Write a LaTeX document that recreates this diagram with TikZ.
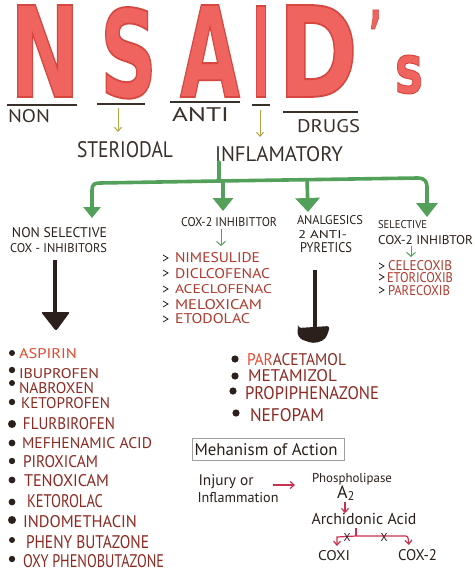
\documentclass[tikz,border=0pt]{standalone}
\usepackage{fontspec}
\usepackage{graphicx}
\setmainfont{PT Sans}
\newfontfamily\titlefont{DejaVu Sans}
\usetikzlibrary{arrows.meta}
\definecolor{titlered}{HTML}{F06460}
\definecolor{hink}{HTML}{3A302A}
\definecolor{grn}{HTML}{52A05A}
\definecolor{dink}{HTML}{2B201B}
\definecolor{listred}{HTML}{8C2A22}
\definecolor{brightred}{HTML}{E24A2E}
\definecolor{coxred}{HTML}{B03A2E}
\definecolor{mechred}{HTML}{C8324E}
\definecolor{olive}{HTML}{B5A348}
\definecolor{boxgray}{HTML}{A0A0A0}
\newcommand{\fitbox}[3]{\resizebox{#1pt}{#2pt}{#3}}
\newcommand{\fitw}[2]{\resizebox{#1pt}{!}{#2}}
\newcommand{\outl}[1]{\special{pdf:literal direct 2 Tr 0.3 w 0.84 0.28 0.25 RG}#1\special{pdf:literal direct 0 Tr}}
\begin{document}
\begin{tikzpicture}[x=1pt,y=-1pt,
  txt/.style={inner sep=0pt,outer sep=0pt,anchor=north west,font=\fontsize{14}{16}\selectfont},
  ttl/.style={inner sep=0pt,outer sep=0pt,anchor=north west,text=titlered,font=\titlefont\bfseries\fontsize{20}{20}\selectfont},
  hdr/.style={txt,text=hink},
  cat/.style={txt,text=dink},
  lred/.style={txt,text=listred},
  cred/.style={txt,text=coxred},
  mtxt/.style={inner sep=0pt,outer sep=0pt,text=dink,font=\fontsize{14}{16}\selectfont},
  uline/.style={draw=hink,line width=1.2pt},
  oarrow/.style={draw=olive,line width=1pt,-{Straight Barb[length=4pt,width=7pt]}},
  gline/.style={draw=grn,line width=3.6pt,line cap=round,line join=round},
  gsmall/.style={draw=grn,line width=1pt,-{Straight Barb[length=4pt,width=9pt]}},
  chev/.style={draw=dink,line width=0.8pt},
  bul/.style={fill=dink},
  rarrow/.style={draw=mechred,line width=1.2pt,-{Straight Barb[length=4pt,width=7pt]}},
  rline/.style={draw=mechred,line width=1.2pt}
]
\fill[white] (0,0) rectangle (474,577);
\useasboundingbox (0,0) rectangle (474,577);

% ---------- title ----------
\node[ttl] (tN) at (10,5) {\fitbox{70}{92}{\outl{N}}};
\node[ttl] (tS) at (100,7) {\fitbox{57}{90}{\outl{S}}};
\node[ttl] (tA) at (180,5) {\fitbox{60}{92}{\outl{A}}};
\node[ttl] (tI) at (252,6) {\fitbox{18}{91}{\outl{I}}};
\node[ttl] (tD) at (278,5) {\fitbox{80}{92}{\outl{D}}};
\node[ttl] (tq) at (369,10) {\fitbox{13}{17}{\raisebox{-0.45em}{\outl{’}}}};
\node[ttl] (ts) at (395,55) {\fitbox{28}{38}{\outl{s}}};

% underlines
\draw[uline] (7,105) -- (77,105);
\draw[uline] (97,104) -- (145,104);
\draw[uline] (170,102) -- (240,102);
\draw[uline] (252,105) -- (270,105);
\draw[uline] (283,112) -- (358,112);

% header words
\node[hdr] (hNon) at (8,110) {\fitbox{42}{13}{NON}};
\node[hdr] (hSter) at (77,141) {\fitbox{96}{16}{STERIODAL}};
\node[hdr] (hAnti) at (172,108) {\fitbox{57}{14}{ANTI}};
\node[hdr] (hDrugs) at (297,120) {\fitbox{63}{13}{DRUGS}};
\node[hdr] (hInfl) at (215,147) {\fitbox{128}{15}{INFLAMATORY}};

\coordinate (sA) at (118,108);
\coordinate (sB) at (118,132);
\draw[oarrow] (sA) -- (sB);
\coordinate (iA) at (260,110);
\coordinate (iB) at (260,137);
\draw[oarrow] (iA) -- (iB);

% ---------- green bracket ----------
\coordinate (j0) at (219,181);
\coordinate (b1) at (92,218);
\coordinate (b2) at (223,211);
\coordinate (b3) at (308,212);
\coordinate (b4) at (427,217);
\draw[gline] (hInfl.south -| j0) -- (j0);
\draw[gline,{Triangle[width=17pt,length=11pt]}-{Triangle[width=21pt,length=14pt]}]
  (b1) -- (92,190) .. controls (92,184) and (95,183) .. (100,183) -- (j0)
  -- (418,178) .. controls (424,178) and (427,181) .. (427,187) -- (b4);
\draw[gline,-{Triangle[width=20pt,length=13pt]}] (223,181) -- (b2);
\draw[gline,-{Triangle[width=24pt,length=14pt]}] (307,179.5) -- (b3);

% ---------- categories ----------
\node[cat] (cNon1) at (12,227) {\fitbox{95}{10}{NON SELECTIVE}};
\node[cat] (cNon2) at (10,243) {\fitbox{97}{9}{COX - INHIBITORS}};
\node[cat] (cCox) at (181,217) {\fitbox{96}{9}{COX-2 INHIBITTOR}};
\node[cat] (cAn1) at (297,215) {\fitbox{66}{9}{ANALGESICS}};
\node[cat] (cAn2) at (298,230) {\fitbox{49}{8}{2 ANTI-}};
\node[cat] (cAn3) at (300,242) {\fitbox{52}{10}{PYRETICS}};
\node[cat] (cSel1) at (378,220) {\fitbox{49}{8}{SELECTIVE}};
\node[cat] (cSel2) at (378,235) {\fitbox{95}{9}{COX-2 INHIBTOR}};

\coordinate (gs1) at (221,246);
\draw[gsmall] (cCox.south -| gs1) ++(0,3) -- (gs1);
\coordinate (gs2) at (411,257);
\draw[gsmall] (cSel2.south -| gs2) ++(0,2) -- (gs2);

% ---------- black arrows ----------
\coordinate (k1) at (55,260);
\coordinate (k1t) at (56,331);
\draw[dink,line width=3.6pt] (k1) -- (55,316);
\fill[dink,rounded corners=2pt] (41,312) -- (70,312) -- (k1t) -- cycle;
\coordinate (k2) at (315,270);
\draw[dink,line width=3.4pt] (k2) -- (315,330);
\fill[dink,rounded corners=3pt] (298,328) -- (330,326) -- (327,336) .. controls (322,342) and (314,344) .. (306,341) .. controls (300,339) and (297,335) .. cycle;

% ---------- cox-2 inhibitor list ----------
\node[cred] (x1) at (175,252) {\fitbox{85}{10}{NIMESULIDE}};
\node[cred] (x2) at (175,268) {\fitbox{95}{10}{DICLCOFENAC}};
\node[cred] (x3) at (175,284) {\fitbox{97}{9}{ACECLOFENAC}};
\node[cred] (x4) at (175,299) {\fitbox{87}{10}{MELOXICAM}};
\node[cred] (x5) at (175,313) {\fitbox{75}{10}{ETODOLAC}};
\foreach \yy in {258,273,289,304,319}{
  \draw[chev] (163,\yy-3) -- (168,\yy) -- (163,\yy+3);
}

% ---------- selective list ----------
\node[cred] (s1) at (388,260) {\fitbox{64}{10}{CELECOXIB}};
\node[cred] (s2) at (387,272) {\fitbox{66}{10}{ETORICOXIB}};
\node[cred] (s3) at (388,285) {\fitbox{62}{10}{PARECOXIB}};
\foreach \yy in {266,277,290}{
  \draw[chev] (379,\yy-3) -- (384,\yy) -- (379,\yy+3);
}

% ---------- non selective list ----------
\node[txt,text=brightred] (n1) at (19,348) {\fitbox{58}{10}{ASPIRIN}};
\node[lred] (n2) at (19,368) {\fitbox{80}{10}{IBUPROFEN}};
\node[lred] (n3) at (19,382) {\fitbox{75}{11}{NABROXEN}};
\node[lred] (n4) at (21,397) {\fitbox{89}{11}{KETOPROFEN}};
\node[lred] (n5) at (23,417) {\fitbox{92}{12}{FLURBIROFEN}};
\node[lred] (n6) at (22,437) {\fitbox{130}{11}{MEFHENAMIC ACID}};
\node[lred] (n7) at (23,455) {\fitbox{75}{12}{PIROXICAM}};
\node[lred] (n8) at (24,474) {\fitbox{85}{12}{TENOXICAM}};
\node[lred] (n9) at (27,494) {\fitbox{76}{13}{KETOROLAC}};
\node[lred] (n10) at (23,515) {\fitbox{114}{12}{INDOMETHACIN}};
\node[lred] (n11) at (26,535) {\fitbox{123}{13}{PHENY BUTAZONE}};
\node[lred] (n12) at (23,554) {\fitbox{141}{13}{OXY PHENOBUTAZONE}};
\foreach \yy/\rr in {353/3,370/3.2,383/3,402/3.2,424/4,443/3.4,461/3.2,480/3.4,502/3.4,520/4,540/3,559/3.2}{
  \fill[bul] (12,\yy) circle (\rr);
}

% ---------- analgesic list ----------
\node[lred] (a1) at (247,353) {\fitbox{99}{12}{\textcolor{brightred}{PAR}ACETAMOL}};
\node[lred] (a2) at (248,369) {\fitbox{89}{12}{METAMIZOL}};
\node[lred] (a3) at (245,386) {\fitbox{134}{13}{PROPIPHENAZONE}};
\node[lred] (a4) at (250,408) {\fitbox{74}{13}{NEFOPAM}};
\foreach \yy/\xx in {359/235,376/235,391/233,413/236}{
  \fill[bul] (\xx,\yy) circle (3.6);
}

% ---------- mechanism of action ----------
\draw[boxgray,line width=1pt] (192,438) rectangle (344,460);
\node[mtxt] (mTitle) at (266,450) {\fitw{143}{Mehanism of Action}};
\node[mtxt] (inj1) at (226,482) {\fitw{55}{Injury or}};
\node[mtxt] (inj2) at (238,498) {\fitw{81}{Inflammation}};
\node[mtxt] (phos) at (352,479) {\fitw{80}{Phospholipase}};
\node[mtxt] (pa2) at (346,493) {\fitw{18}{A\textsubscript{2}}};
\node[mtxt] (arch) at (364,519) {\fitw{105}{Archidonic Acid}};
\node[mtxt,anchor=north west] (cox1) at (318,550) {\fitbox{32}{10}{COXI}};
\node[mtxt,anchor=north west] (cox2) at (398,549) {\fitbox{39}{11}{COX-2}};

\coordinate (ra) at (273,485);
\coordinate (rb) at (295,485);
\draw[rarrow] (ra) -- (rb);
\draw[rarrow] (pa2.south -| 345,0) ++(0,1) -- (arch.north -| 345,0);
\coordinate (jm) at (356,536);
\coordinate (c1t) at (337,546);
\coordinate (c2t) at (409,545);
\draw[rline] (arch.south -| jm) ++(0,3) -- (jm);
\draw[rarrow] (jm) -- (337,537) -- (c1t);
\draw[rarrow] (jm) -- (404,536) .. controls (408,536) .. (c2t);
\node[mtxt] (xm1) at (347,537) {\fitbox{7}{8}{X}};
\node[mtxt] (xm2) at (384,537) {\fitbox{7}{8}{X}};
\end{tikzpicture}
\end{document}
